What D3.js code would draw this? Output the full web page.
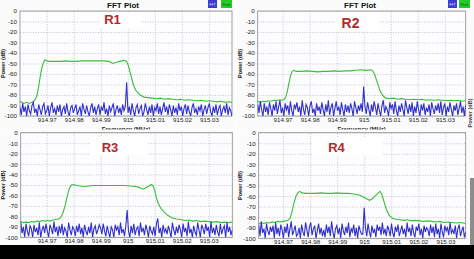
<!DOCTYPE html>
<html>
<head>
<meta charset="utf-8">
<script src="https://cdn.jsdelivr.net/npm/d3@7"></script>
<style>
html, body { margin: 0; padding: 0; background: #fff; }
svg { display: block; font-family: "Liberation Sans", Arial, sans-serif; }
</style>
</head>
<body>
<svg id="chart" width="474" height="259"></svg>
<script>
// tick labels
const freqTicks = [914.97, 914.98, 914.99, 915, 915.01, 915.02, 915.03];
const freqLabels = ['914.97', '914.98', '914.99', '915', '915.01', '915.02', '915.03'];
const powerTicks = [0, -10, -20, -30, -40, -50, -60, -70, -80, -90, -100];
const panelNames = ['R1', 'R2', 'R3', 'R4'];
const legendNames = ['FFT', 'Peak'];

// Peak hold trace (green), MHz / dB
const r1PeakFreq = [914.9601, 914.9615, 914.9625, 914.9635, 914.9645, 914.9652, 914.9658, 914.9664, 914.9670, 914.9676,
  914.9682, 914.9688, 914.9693, 914.9700, 914.9710, 914.9730, 914.9750, 914.9770, 914.9790, 914.9810,
  914.9830, 914.9850, 914.9870, 914.9890, 914.9910, 914.9930, 914.9945, 914.9955, 914.9970, 914.9985,
  914.9995, 915.0002, 915.0010, 915.0020, 915.0030, 915.0045, 915.0060, 915.0075, 915.0090, 915.0105,
  915.0120, 915.0135, 915.0150, 915.0165, 915.0180, 915.0195, 915.0210, 915.0225, 915.0240, 915.0255,
  915.0270, 915.0285, 915.0300, 915.0315, 915.0330, 915.0345, 915.0360, 915.0375, 915.0385];
const r1PeakDb = [-86, -88, -87, -88, -87, -86, -84, -80, -72, -62,
  -54, -49, -46.5, -47.5, -48, -48, -48, -47.5, -48, -48,
  -47.5, -47.5, -47.5, -47.5, -47.5, -48, -50, -49, -48, -47,
  -48, -52, -60, -70, -76, -80, -82, -82.5, -83, -83.5,
  -83, -84, -83.5, -84, -84.5, -84, -85, -84.5, -85, -85.5,
  -85, -86, -85.5, -86, -86.5, -86, -87, -86.5, -87];

const r2PeakFreq = [914.9608, 914.9618, 914.9628, 914.9638, 914.9648, 914.9658, 914.9668, 914.9678, 914.9688, 914.9698,
  914.9706, 914.9712, 914.9718, 914.9724, 914.9730, 914.9736, 914.9742, 914.9750, 914.9770, 914.9790,
  914.9810, 914.9830, 914.9850, 914.9870, 914.9890, 914.9910, 914.9930, 914.9950, 914.9970, 914.9990,
  915.0010, 915.0025, 915.0033, 915.0040, 915.0050, 915.0060, 915.0070, 915.0082, 915.0095, 915.0110,
  915.0125, 915.0140, 915.0155, 915.0170, 915.0185, 915.0200, 915.0215, 915.0230, 915.0245, 915.0260,
  915.0275, 915.0290, 915.0305, 915.0320, 915.0335, 915.0350, 915.0365, 915.0377];
const r2PeakDb = [-86, -87, -86, -86.5, -85.5, -86, -85, -85.5, -84.5, -85,
  -84, -82, -76, -68, -61, -57.5, -56.5, -57.5, -57.5, -57,
  -57.5, -58, -57.5, -57.5, -57, -57.5, -57, -57, -56.5, -56,
  -56.5, -56, -57, -60, -68, -76, -80.5, -83, -83.5, -83,
  -84, -83.5, -84, -84.5, -84, -84.5, -84, -85, -84.5, -85,
  -84.5, -85, -85.5, -85, -85.5, -85, -86, -85.5];

const r3PeakFreq = [914.9604, 914.9614, 914.9624, 914.9634, 914.9644, 914.9654, 914.9664, 914.9674, 914.9684, 914.9694,
  914.9704, 914.9714, 914.9724, 914.9734, 914.9744, 914.9752, 914.9760, 914.9768, 914.9776, 914.9784,
  914.9792, 914.9800, 914.9810, 914.9825, 914.9840, 914.9855, 914.9870, 914.9890, 914.9910, 914.9930,
  914.9950, 914.9970, 914.9990, 915.0010, 915.0030, 915.0045, 915.0055, 915.0065, 915.0078, 915.0088,
  915.0094, 915.0100, 915.0106, 915.0112, 915.0122, 915.0135, 915.0148, 915.0165, 915.0180, 915.0195,
  915.0210, 915.0225, 915.0240, 915.0255, 915.0270, 915.0285, 915.0300, 915.0315, 915.0330, 915.0345,
  915.0360, 915.0375, 915.0387];
const r3PeakDb = [-85, -86, -85.5, -86, -85, -85.5, -84.5, -85, -84, -84.5,
  -84, -84.5, -83.5, -83, -82.5, -81, -77, -70, -61, -53,
  -50, -49.5, -50.5, -51, -51.5, -51, -50.5, -50.5, -50.5, -50.5,
  -50.5, -50.5, -50.5, -51, -51.5, -52.5, -54, -53, -51, -49.5,
  -51, -55, -62, -67, -72, -76, -79, -81.5, -82.5, -83,
  -84, -83.5, -84.5, -84, -85, -84.5, -85, -85.5, -85, -86,
  -85.5, -86, -85.5];

const r4PeakFreq = [914.9610, 914.9620, 914.9630, 914.9640, 914.9650, 914.9660, 914.9670, 914.9680, 914.9690, 914.9700,
  914.9710, 914.9718, 914.9726, 914.9733, 914.9740, 914.9748, 914.9756, 914.9762, 914.9770, 914.9785,
  914.9800, 914.9820, 914.9840, 914.9860, 914.9880, 914.9900, 914.9920, 914.9940, 914.9960, 914.9975,
  914.9990, 915.0005, 915.0020, 915.0030, 915.0040, 915.0050, 915.0058, 915.0066, 915.0074, 915.0082,
  915.0092, 915.0104, 915.0118, 915.0132, 915.0146, 915.0160, 915.0175, 915.0190, 915.0205, 915.0220,
  915.0235, 915.0250, 915.0265, 915.0280, 915.0295, 915.0310, 915.0325, 915.0340, 915.0355, 915.0375];
const r4PeakDb = [-86, -85.5, -86, -85, -85.5, -84.5, -85, -84, -84.5, -84,
  -83.5, -83, -81, -75, -67, -60, -56.5, -55.5, -57, -57.5,
  -57.5, -57.5, -57, -57.5, -57.5, -57, -57.5, -57.5, -58, -58.5,
  -60, -62, -64, -62.5, -60, -57.5, -55.5, -59, -66, -73,
  -78, -81, -82, -82.5, -83, -82.5, -83.5, -83, -83.5, -84,
  -83.5, -84, -84.5, -84, -85, -84.5, -85, -85.5, -85, -86];

// live FFT trace (blue), evenly spaced bins across each panel's span, dB
const r1Fft = [-92, -99, -88, -96, -91, -100, -89, -95, -98, -90,
  -87, -97, -93, -100, -89, -94, -99, -91, -88, -98,
  -95, -90, -100, -92, -87, -97, -93, -99, -90, -96,
  -89, -100, -94, -91, -98, -88, -96, -100, -92, -90,
  -97, -93, -89, -99, -95, -91, -100, -88, -94, -98,
  -90, -96, -100, -92, -88, -97, -91, -99, -93, -89,
  -99, -91, -95, -87, -98, -93, -100, -90, -96, -92,
  -88, -100, -94, -90, -97, -92, -99, -89, -95, -91,
  -68, -97, -91, -99, -88, -95, -100, -92, -89, -98,
  -93, -90, -100, -96, -88, -94, -99, -91, -97, -89,
  -100, -92, -95, -88, -98, -91, -99, -93, -87, -96,
  -91, -99, -89, -94, -100, -90, -97, -92, -99, -88,
  -95, -91, -100, -93, -89, -98, -90, -96, -100, -92,
  -88, -97, -93, -99, -91, -95, -89, -100, -94, -90,
  -98, -92, -88, -96, -100, -91, -97, -89, -99, -93,
  -90, -100, -94, -91, -97, -88, -99, -92, -95, -100];
const r2Fft = [-89, -97, -86, -94, -100, -88, -96, -91, -99, -87,
  -93, -100, -89, -95, -86, -98, -91, -85, -97, -92,
  -100, -88, -94, -90, -99, -86, -95, -100, -89, -93,
  -87, -96, -91, -100, -85, -94, -99, -89, -92, -100,
  -90, -86, -97, -93, -100, -88, -95, -91, -98, -87,
  -94, -100, -89, -96, -85, -99, -92, -88, -100, -93,
  -86, -95, -91, -99, -87, -94, -100, -89, -96, -90,
  -97, -88, -93, -100, -86, -92, -98, -90, -95, -88,
  -96, -72, -91, -98, -87, -94, -100, -89, -96, -86,
  -92, -99, -88, -95, -100, -90, -85, -97, -91, -94,
  -100, -87, -93, -89, -98, -86, -95, -100, -90, -96,
  -88, -94, -100, -85, -92, -98, -89, -96, -87, -100,
  -91, -97, -86, -94, -100, -89, -95, -88, -99, -92,
  -96, -89, -100, -87, -93, -98, -90, -95, -88, -97,
  -86, -99, -92, -88, -100, -91, -96, -87, -94, -100,
  -90, -95, -88, -99, -93, -86, -97, -91, -100, -89];
const r3Fft = [-85, -96, -90, -100, -87, -94, -99, -89, -92, -100,
  -88, -95, -91, -98, -86, -100, -93, -89, -96, -87,
  -94, -100, -88, -92, -97, -85, -95, -90, -99, -89,
  -96, -87, -98, -91, -94, -100, -86, -93, -98, -90,
  -92, -99, -89, -95, -87, -97, -91, -100, -88, -94,
  -98, -90, -96, -86, -100, -92, -89, -97, -93, -88,
  -91, -97, -87, -94, -99, -89, -95, -100, -90, -93,
  -100, -88, -93, -90, -98, -86, -96, -92, -99, -89,
  -74, -94, -100, -89, -96, -87, -98, -92, -90, -99,
  -86, -95, -91, -98, -88, -93, -100, -89, -94, -97,
  -90, -99, -87, -82, -96, -91, -100, -88, -95, -92,
  -97, -89, -94, -100, -86, -93, -98, -90, -96, -88,
  -93, -100, -87, -95, -91, -99, -85, -96, -92, -100,
  -89, -95, -98, -86, -93, -100, -88, -92, -97, -87,
  -94, -90, -100, -85, -96, -91, -98, -88, -95, -99,
  -87, -97, -92, -89, -100, -86, -95, -90, -98, -93];
const r4Fft = [-87, -98, -84, -95, -91, -100, -86, -93, -97, -89,
  -94, -88, -100, -85, -96, -90, -98, -87, -92, -100,
  -89, -95, -86, -99, -91, -84, -97, -93, -88, -98,
  -96, -90, -100, -87, -94, -98, -85, -92, -99, -89,
  -85, -97, -91, -88, -100, -93, -86, -96, -90, -98,
  -92, -99, -87, -95, -89, -98, -84, -94, -100, -91,
  -88, -96, -90, -100, -86, -93, -97, -89, -95, -85,
  -99, -91, -94, -87, -98, -90, -100, -88, -93, -96,
  -96, -71, -90, -98, -86, -94, -99, -88, -95, -91,
  -99, -87, -93, -89, -97, -85, -96, -91, -98, -88,
  -92, -98, -86, -95, -99, -89, -94, -87, -98, -93,
  -88, -96, -91, -99, -85, -94, -90, -98, -87, -95,
  -99, -89, -93, -86, -97, -91, -100, -88, -94, -90,
  -92, -98, -87, -95, -89, -99, -86, -96, -91, -100,
  -86, -94, -99, -88, -93, -90, -97, -85, -95, -92,
  -96, -88, -100, -91, -87, -98, -93, -89, -99, -94];

const peakFreqs = [r1PeakFreq, r2PeakFreq, r3PeakFreq, r4PeakFreq];
const peakDbs = [r1PeakDb, r2PeakDb, r3PeakDb, r4PeakDb];
const ffts = [r1Fft, r2Fft, r3Fft, r4Fft];

// screenshot geometry of the four captured windows
const layouts = [
  { cell: [0, 0, 236, 129.5], plot: [20, 11, 212, 105], span: [914.9601, 915.0385], top: true,
    legendX: [208, 221], tag: [100, 12, 42, 16], tagPos: [112.5, 23.5], tagSize: 13 },
  { cell: [237, 0, 237, 129.5], plot: [257.7, 11, 208, 105], span: [914.9608, 915.0377], top: true,
    legendX: [448, 459], tag: [335, 12, 45, 20], tagPos: [350.5, 28], tagSize: 14 },
  { cell: [0, 130, 236, 115], plot: [20.7, 132.7, 211.6, 104.6], span: [914.9604, 915.0387], top: false,
    tag: [90, 137, 58, 18], tagPos: [110, 152], tagSize: 13 },
  { cell: [237, 130, 237, 115], plot: [258.7, 132.7, 207, 105.6], span: [914.9610, 915.0375], top: false,
    tag: [312, 137, 70, 18], tagPos: [336.5, 152], tagSize: 13 }
];

const svg = d3.select('#chart');
const defs = svg.append('defs');

layouts.forEach((L, i) => {
  const [cx, cy, cw, ch] = L.cell;
  const [px, py, pw, ph] = L.plot;

  defs.append('clipPath').attr('id', 'cell' + i)
    .append('rect').attr('x', cx).attr('y', cy).attr('width', cw).attr('height', ch);
  defs.append('clipPath').attr('id', 'plot' + i)
    .append('rect').attr('x', px).attr('y', py).attr('width', pw).attr('height', ph);

  const g = svg.append('g').attr('clip-path', 'url(#cell' + i + ')');
  g.append('rect').attr('x', cx).attr('y', cy).attr('width', cw).attr('height', ch).attr('fill', '#fbfbfb');

  const x = d3.scaleLinear().domain(L.span).range([px, px + pw]);
  const y = d3.scaleLinear().domain([-100, 0]).range([py + ph, py]);

  g.append('rect').attr('x', px).attr('y', py).attr('width', pw).attr('height', ph).attr('fill', '#fdfdff');

  // grid + tick labels
  const yAxis = g.append('g').attr('transform', `translate(${px},0)`)
    .call(d3.axisLeft(y).tickValues(powerTicks).tickSize(-pw).tickPadding(3).tickFormat(d => String(d)));
  const xAxis = g.append('g').attr('transform', `translate(0,${py + ph})`)
    .call(d3.axisBottom(x).tickValues(freqTicks).tickSize(-ph).tickPadding(1.8)
      .tickFormat((d, k) => freqLabels[k]));
  [yAxis, xAxis].forEach(a => {
    a.select('.domain').remove();
    a.selectAll('line').attr('stroke', '#b8b8c0').attr('stroke-width', 0.8).attr('stroke-dasharray', '1,1.6');
    a.selectAll('text').attr('fill', '#222').attr('font-size', 6.2);
  });

  g.append('rect').attr('x', px).attr('y', py).attr('width', pw).attr('height', ph)
    .attr('fill', 'none').attr('stroke', '#8a8a8a').attr('stroke-width', 0.8);

  // traces
  const traces = g.append('g').attr('clip-path', 'url(#plot' + i + ')');
  const fft = ffts[i];
  const bin = d3.scaleLinear().domain([0, fft.length - 1]).range(L.span);
  traces.append('path')
    .datum(d3.zip(peakFreqs[i], peakDbs[i]))
    .attr('fill', 'none').attr('stroke', '#35c035').attr('stroke-width', 1.1)
    .attr('d', d3.line().x(d => x(d[0])).y(d => y(d[1])));
  traces.append('path')
    .datum(fft)
    .attr('fill', 'none').attr('stroke', '#3030cc').attr('stroke-width', 1.1)
    .attr('d', d3.line().x((d, k) => x(bin(k))).y(d => y(d)));

  // axis titles
  g.append('text')
    .attr('transform', `translate(${cx + 4.5},${py + ph * 0.5}) rotate(-90)`)
    .attr('text-anchor', 'middle').attr('font-size', 5.5).attr('font-weight', 'bold').attr('fill', '#222')
    .text('Power (dB)');
  g.append('text')
    .attr('x', px + pw * 0.5).attr('y', py + ph + 15)
    .attr('text-anchor', 'middle').attr('font-size', 6).attr('font-weight', 'bold').attr('fill', '#222')
    .text('Frequency (MHz)');

  if (L.top) {
    g.append('text').attr('x', cx + 123).attr('y', 8)
      .attr('text-anchor', 'middle').attr('font-size', 8).attr('font-weight', 'bold').attr('fill', '#111')
      .text('FFT Plot');
    const legendColors = ['#3b3bd6', '#22cc22'];
    legendNames.forEach((name, k) => {
      const w = k === 0 ? 9 : 11;
      g.append('rect').attr('x', L.legendX[k]).attr('y', 0).attr('width', w).attr('height', 8)
        .attr('fill', legendColors[k]);
      g.append('text').attr('x', L.legendX[k] + w / 2).attr('y', 5.5)
        .attr('text-anchor', 'middle').attr('font-size', 3.5)
        .attr('fill', k === 0 ? '#dde' : '#143').text(name);
    });
  }

  // region tag
  g.append('rect').attr('x', L.tag[0]).attr('y', L.tag[1]).attr('width', L.tag[2]).attr('height', L.tag[3])
    .attr('fill', '#fff');
  g.append('text').attr('x', L.tagPos[0]).attr('y', L.tagPos[1])
    .attr('text-anchor', 'middle').attr('font-size', L.tagSize).attr('font-weight', 'bold')
    .attr('fill', '#b02a2a').text(panelNames[i]);
});

// edges of neighbouring windows visible in the capture
svg.append('text')
  .attr('transform', 'translate(472,113) rotate(-90)')
  .attr('text-anchor', 'middle').attr('font-size', 5.5).attr('font-weight', 'bold').attr('fill', '#444')
  .text('Power (dB)');
svg.append('rect').attr('x', 470).attr('y', 178).attr('width', 4).attr('height', 67).attr('fill', '#8c8c8c');
svg.append('rect').attr('x', 0).attr('y', 245).attr('width', 474).attr('height', 14).attr('fill', '#000');
</script>
</body>
</html>
